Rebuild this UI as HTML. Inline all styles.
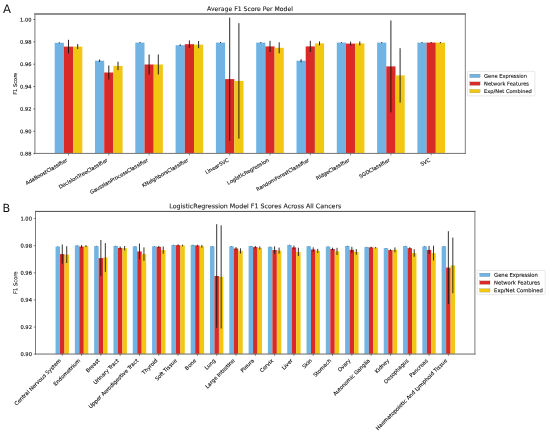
<!DOCTYPE html>
<html lang="en"><head><meta charset="utf-8"><title>F1 score charts</title>
<style>html,body{margin:0;padding:0;background:#fff}svg{display:block;text-rendering:geometricPrecision}</style></head><body>
<svg width="550" height="433" viewBox="0 0 550 433">
<rect width="550" height="433" fill="#fff"/>
<g>
<clipPath id="clip14"><rect x="35" y="14" width="430" height="139.6"/></clipPath>
<rect x="54.7" y="42.8" width="9.2" height="110.8" fill="#71b3e3"/>
<rect x="63.9" y="46.6" width="9.2" height="107" fill="#d92a27"/>
<rect x="73.1" y="46.6" width="9.2" height="107" fill="#f2c714"/>
<rect x="95" y="60.7" width="9.2" height="92.9" fill="#71b3e3"/>
<rect x="104.2" y="72.5" width="9.2" height="81.1" fill="#d92a27"/>
<rect x="113.4" y="65.9" width="9.2" height="87.7" fill="#f2c714"/>
<rect x="135.3" y="42.6" width="9.2" height="111" fill="#71b3e3"/>
<rect x="144.5" y="64.5" width="9.2" height="89.1" fill="#d92a27"/>
<rect x="153.7" y="64.5" width="9.2" height="89.1" fill="#f2c714"/>
<rect x="175.6" y="45.2" width="9.2" height="108.4" fill="#71b3e3"/>
<rect x="184.8" y="44.2" width="9.2" height="109.4" fill="#d92a27"/>
<rect x="194" y="44.6" width="9.2" height="109" fill="#f2c714"/>
<rect x="215.9" y="42.6" width="9.2" height="111" fill="#71b3e3"/>
<rect x="225.1" y="79.1" width="9.2" height="74.5" fill="#d92a27"/>
<rect x="234.3" y="80.9" width="9.2" height="72.7" fill="#f2c714"/>
<rect x="256.2" y="42.6" width="9.2" height="111" fill="#71b3e3"/>
<rect x="265.4" y="46.4" width="9.2" height="107.2" fill="#d92a27"/>
<rect x="274.6" y="47.8" width="9.2" height="105.8" fill="#f2c714"/>
<rect x="296.5" y="60.7" width="9.2" height="92.9" fill="#71b3e3"/>
<rect x="305.7" y="46.4" width="9.2" height="107.2" fill="#d92a27"/>
<rect x="314.9" y="43.4" width="9.2" height="110.2" fill="#f2c714"/>
<rect x="336.8" y="42.6" width="9.2" height="111" fill="#71b3e3"/>
<rect x="346" y="43.6" width="9.2" height="110" fill="#d92a27"/>
<rect x="355.2" y="43.4" width="9.2" height="110.2" fill="#f2c714"/>
<rect x="377.1" y="42.6" width="9.2" height="111" fill="#71b3e3"/>
<rect x="386.3" y="66.4" width="9.2" height="87.2" fill="#d92a27"/>
<rect x="395.5" y="75.4" width="9.2" height="78.2" fill="#f2c714"/>
<rect x="417.4" y="42.6" width="9.2" height="111" fill="#71b3e3"/>
<rect x="426.6" y="42.6" width="9.2" height="111" fill="#d92a27"/>
<rect x="435.8" y="42.6" width="9.2" height="111" fill="#f2c714"/>
<g stroke="#111" stroke-width="0.9" clip-path="url(#clip14)">
<line x1="59.3" x2="59.3" y1="42.3" y2="43.3"/>
<line x1="68.5" x2="68.5" y1="39.8" y2="53.4"/>
<line x1="77.7" x2="77.7" y1="44.1" y2="49.1"/>
<line x1="99.6" x2="99.6" y1="59.5" y2="61.9"/>
<line x1="108.8" x2="108.8" y1="65.5" y2="79.5"/>
<line x1="118" x2="118" y1="61.7" y2="70.1"/>
<line x1="139.9" x2="139.9" y1="42.1" y2="43.1"/>
<line x1="149.1" x2="149.1" y1="54.5" y2="74.5"/>
<line x1="158.3" x2="158.3" y1="54.5" y2="74.5"/>
<line x1="180.2" x2="180.2" y1="44.4" y2="46"/>
<line x1="189.4" x2="189.4" y1="40.4" y2="48"/>
<line x1="198.6" x2="198.6" y1="41" y2="48.2"/>
<line x1="220.5" x2="220.5" y1="42.1" y2="43.1"/>
<line x1="229.7" x2="229.7" y1="17.6" y2="140.6"/>
<line x1="238.9" x2="238.9" y1="23.2" y2="138.6"/>
<line x1="260.8" x2="260.8" y1="42.1" y2="43.1"/>
<line x1="270" x2="270" y1="40.8" y2="52"/>
<line x1="279.2" x2="279.2" y1="42.3" y2="53.3"/>
<line x1="301.1" x2="301.1" y1="59.2" y2="62.2"/>
<line x1="310.3" x2="310.3" y1="40.8" y2="52"/>
<line x1="319.5" x2="319.5" y1="41.4" y2="45.4"/>
<line x1="341.4" x2="341.4" y1="42.1" y2="43.1"/>
<line x1="350.6" x2="350.6" y1="41.6" y2="45.6"/>
<line x1="359.8" x2="359.8" y1="41.4" y2="45.4"/>
<line x1="381.7" x2="381.7" y1="42.1" y2="43.1"/>
<line x1="390.9" x2="390.9" y1="20.5" y2="112.3"/>
<line x1="400.1" x2="400.1" y1="48.2" y2="102.6"/>
<line x1="422" x2="422" y1="42.1" y2="43.1"/>
<line x1="431.2" x2="431.2" y1="42" y2="43.2"/>
<line x1="440.4" x2="440.4" y1="42" y2="43.2"/>
</g>
<rect x="34.3" y="13.05" width="1.2" height="140.95" fill="#8e8e8e"/>
<rect x="464.8" y="13.05" width="1.1" height="140.95" fill="#8a8a8a"/>
<rect x="34.3" y="13.05" width="431.6" height="1.9" fill="#8a8a8a"/>
<rect x="34.3" y="152.9" width="431.6" height="1.1" fill="#808080"/>
<g stroke="#000" stroke-width="0.45">
<line x1="33.2" x2="35" y1="19.5" y2="19.5"/>
<line x1="33.2" x2="35" y1="41.86" y2="41.86"/>
<line x1="33.2" x2="35" y1="64.22" y2="64.22"/>
<line x1="33.2" x2="35" y1="86.58" y2="86.58"/>
<line x1="33.2" x2="35" y1="108.94" y2="108.94"/>
<line x1="33.2" x2="35" y1="131.3" y2="131.3"/>
<line x1="33.2" x2="35" y1="153.66" y2="153.66"/>
<line x1="68.5" x2="68.5" y1="153.6" y2="155.4"/>
<line x1="108.8" x2="108.8" y1="153.6" y2="155.4"/>
<line x1="149.1" x2="149.1" y1="153.6" y2="155.4"/>
<line x1="189.4" x2="189.4" y1="153.6" y2="155.4"/>
<line x1="229.7" x2="229.7" y1="153.6" y2="155.4"/>
<line x1="270" x2="270" y1="153.6" y2="155.4"/>
<line x1="310.3" x2="310.3" y1="153.6" y2="155.4"/>
<line x1="350.6" x2="350.6" y1="153.6" y2="155.4"/>
<line x1="390.9" x2="390.9" y1="153.6" y2="155.4"/>
<line x1="431.2" x2="431.2" y1="153.6" y2="155.4"/>
</g>
<g font-family='"DejaVu Sans","Liberation Sans",sans-serif' font-size="5.12" fill="#111" stroke="#111" stroke-width="0.12">
<text transform="translate(31.5,21.39) rotate(0.04)" text-anchor="end">1.00</text>
<text transform="translate(31.5,43.75) rotate(0.04)" text-anchor="end">0.98</text>
<text transform="translate(31.5,66.11) rotate(0.04)" text-anchor="end">0.96</text>
<text transform="translate(31.5,88.47) rotate(0.04)" text-anchor="end">0.94</text>
<text transform="translate(31.5,110.83) rotate(0.04)" text-anchor="end">0.92</text>
<text transform="translate(31.5,133.19) rotate(0.04)" text-anchor="end">0.90</text>
<text transform="translate(31.5,155.55) rotate(0.04)" text-anchor="end">0.88</text>
<text transform="translate(67.9,161.21) rotate(-30)" text-anchor="end">AdaBoostClassifier</text>
<text transform="translate(108.2,161.21) rotate(-30)" text-anchor="end">DecisionTreeClassifier</text>
<text transform="translate(148.5,161.21) rotate(-30)" text-anchor="end">GaussianProcessClassifier</text>
<text transform="translate(188.8,161.21) rotate(-30)" text-anchor="end">KNeighborsClassifier</text>
<text transform="translate(229.1,161.21) rotate(-30)" text-anchor="end">LinearSVC</text>
<text transform="translate(269.4,161.21) rotate(-30)" text-anchor="end">LogisticRegression</text>
<text transform="translate(309.7,161.21) rotate(-30)" text-anchor="end">RandomForestClassifier</text>
<text transform="translate(350,161.21) rotate(-30)" text-anchor="end">RidgeClassifier</text>
<text transform="translate(390.3,161.21) rotate(-30)" text-anchor="end">SGDClassifier</text>
<text transform="translate(430.6,161.21) rotate(-30)" text-anchor="end">SVC</text>
<text transform="translate(16.9,83.8) rotate(-89.96)" text-anchor="middle">F1 Score</text>
<text transform="translate(250,10.9) rotate(0.04)" text-anchor="middle" font-size="6.15" stroke-width="0.08">Average F1 Score Per Model</text>
<rect x="467.4" y="71.3" width="67.5" height="24.6" rx="1" ry="1" fill="#fff" stroke="#d0d0d0" stroke-width="0.5"/>
<rect x="469.8" y="74.2" width="10.3" height="3.4" fill="#71b3e3"/>
<text transform="translate(484.1,77.74) rotate(0.04)" font-size="5.12">Gene Expression</text>
<rect x="469.8" y="81.9" width="10.3" height="3.4" fill="#d92a27"/>
<text transform="translate(484.1,85.44) rotate(0.04)" font-size="5.12">Network Features</text>
<rect x="469.8" y="89.4" width="10.3" height="3.4" fill="#f2c714"/>
<text transform="translate(484.1,92.94) rotate(0.04)" font-size="5.12">Exp/Net Combined</text>
</g>
</g>
<g>
<clipPath id="clip211"><rect x="35.5" y="211.4" width="439.7" height="142.65"/></clipPath>
<rect x="55.55" y="246.6" width="4.47" height="107.45" fill="#71b3e3"/>
<rect x="60.02" y="254.1" width="4.47" height="99.95" fill="#d92a27"/>
<rect x="64.49" y="254.6" width="4.47" height="99.45" fill="#f2c714"/>
<rect x="74.85" y="245.5" width="4.47" height="108.55" fill="#71b3e3"/>
<rect x="79.32" y="246.6" width="4.47" height="107.45" fill="#d92a27"/>
<rect x="83.79" y="246.1" width="4.47" height="107.95" fill="#f2c714"/>
<rect x="94.16" y="246.1" width="4.47" height="107.95" fill="#71b3e3"/>
<rect x="98.63" y="258.1" width="4.47" height="95.95" fill="#d92a27"/>
<rect x="103.1" y="257.5" width="4.47" height="96.55" fill="#f2c714"/>
<rect x="113.47" y="246" width="4.47" height="108.05" fill="#71b3e3"/>
<rect x="117.94" y="247.9" width="4.47" height="106.15" fill="#d92a27"/>
<rect x="122.41" y="248.2" width="4.47" height="105.85" fill="#f2c714"/>
<rect x="132.77" y="246.4" width="4.47" height="107.65" fill="#71b3e3"/>
<rect x="137.24" y="251.4" width="4.47" height="102.65" fill="#d92a27"/>
<rect x="141.71" y="254.1" width="4.47" height="99.95" fill="#f2c714"/>
<rect x="152.07" y="246.3" width="4.47" height="107.75" fill="#71b3e3"/>
<rect x="156.54" y="246.9" width="4.47" height="107.15" fill="#d92a27"/>
<rect x="161.01" y="250.1" width="4.47" height="103.95" fill="#f2c714"/>
<rect x="171.38" y="245" width="4.47" height="109.05" fill="#71b3e3"/>
<rect x="175.85" y="245.2" width="4.47" height="108.85" fill="#d92a27"/>
<rect x="180.32" y="245.5" width="4.47" height="108.55" fill="#f2c714"/>
<rect x="190.69" y="245" width="4.47" height="109.05" fill="#71b3e3"/>
<rect x="195.16" y="245.5" width="4.47" height="108.55" fill="#d92a27"/>
<rect x="199.62" y="246.3" width="4.47" height="107.75" fill="#f2c714"/>
<rect x="209.99" y="246.3" width="4.47" height="107.75" fill="#71b3e3"/>
<rect x="214.46" y="276" width="4.47" height="78.05" fill="#d92a27"/>
<rect x="218.93" y="276.9" width="4.47" height="77.15" fill="#f2c714"/>
<rect x="229.3" y="246.3" width="4.47" height="107.75" fill="#71b3e3"/>
<rect x="233.77" y="248.5" width="4.47" height="105.55" fill="#d92a27"/>
<rect x="238.24" y="250.9" width="4.47" height="103.15" fill="#f2c714"/>
<rect x="248.6" y="246.1" width="4.47" height="107.95" fill="#71b3e3"/>
<rect x="253.07" y="247.1" width="4.47" height="106.95" fill="#d92a27"/>
<rect x="257.54" y="247.9" width="4.47" height="106.15" fill="#f2c714"/>
<rect x="267.9" y="246.9" width="4.47" height="107.15" fill="#71b3e3"/>
<rect x="272.38" y="250" width="4.47" height="104.05" fill="#d92a27"/>
<rect x="276.84" y="250.6" width="4.47" height="103.45" fill="#f2c714"/>
<rect x="287.21" y="245" width="4.47" height="109.05" fill="#71b3e3"/>
<rect x="291.68" y="247.4" width="4.47" height="106.65" fill="#d92a27"/>
<rect x="296.15" y="251.9" width="4.47" height="102.15" fill="#f2c714"/>
<rect x="306.51" y="246.4" width="4.47" height="107.65" fill="#71b3e3"/>
<rect x="310.99" y="249.5" width="4.47" height="104.55" fill="#d92a27"/>
<rect x="315.45" y="250.9" width="4.47" height="103.15" fill="#f2c714"/>
<rect x="325.82" y="246.6" width="4.47" height="107.45" fill="#71b3e3"/>
<rect x="330.29" y="249" width="4.47" height="105.05" fill="#d92a27"/>
<rect x="334.76" y="251.4" width="4.47" height="102.65" fill="#f2c714"/>
<rect x="345.12" y="246" width="4.47" height="108.05" fill="#71b3e3"/>
<rect x="349.6" y="249.8" width="4.47" height="104.25" fill="#d92a27"/>
<rect x="354.06" y="251.9" width="4.47" height="102.15" fill="#f2c714"/>
<rect x="364.43" y="247.1" width="4.47" height="106.95" fill="#71b3e3"/>
<rect x="368.9" y="247.4" width="4.47" height="106.65" fill="#d92a27"/>
<rect x="373.37" y="247.7" width="4.47" height="106.35" fill="#f2c714"/>
<rect x="383.74" y="248.2" width="4.47" height="105.85" fill="#71b3e3"/>
<rect x="388.21" y="250.1" width="4.47" height="103.95" fill="#d92a27"/>
<rect x="392.68" y="249.8" width="4.47" height="104.25" fill="#f2c714"/>
<rect x="403.04" y="246.1" width="4.47" height="107.95" fill="#71b3e3"/>
<rect x="407.51" y="248.2" width="4.47" height="105.85" fill="#d92a27"/>
<rect x="411.98" y="253" width="4.47" height="101.05" fill="#f2c714"/>
<rect x="422.35" y="246.3" width="4.47" height="107.75" fill="#71b3e3"/>
<rect x="426.82" y="249.9" width="4.47" height="104.15" fill="#d92a27"/>
<rect x="431.29" y="253.1" width="4.47" height="100.95" fill="#f2c714"/>
<rect x="441.65" y="246.3" width="4.47" height="107.75" fill="#71b3e3"/>
<rect x="446.12" y="267.6" width="4.47" height="86.45" fill="#d92a27"/>
<rect x="450.59" y="265.4" width="4.47" height="88.65" fill="#f2c714"/>
<g stroke="#111" stroke-width="0.85" clip-path="url(#clip211)">
<line x1="57.78" x2="57.78" y1="246.35" y2="246.85"/>
<line x1="62.25" x2="62.25" y1="244.5" y2="263.7"/>
<line x1="66.72" x2="66.72" y1="246.2" y2="263"/>
<line x1="77.09" x2="77.09" y1="245.25" y2="245.75"/>
<line x1="81.56" x2="81.56" y1="245.1" y2="248.1"/>
<line x1="86.03" x2="86.03" y1="245.1" y2="247.1"/>
<line x1="96.39" x2="96.39" y1="245.85" y2="246.35"/>
<line x1="100.86" x2="100.86" y1="240" y2="276.2"/>
<line x1="105.33" x2="105.33" y1="243.1" y2="271.9"/>
<line x1="115.7" x2="115.7" y1="245.75" y2="246.25"/>
<line x1="120.17" x2="120.17" y1="246.4" y2="249.4"/>
<line x1="124.64" x2="124.64" y1="246" y2="250.4"/>
<line x1="135" x2="135" y1="246.15" y2="246.65"/>
<line x1="139.47" x2="139.47" y1="243.6" y2="259.2"/>
<line x1="143.94" x2="143.94" y1="247.4" y2="260.8"/>
<line x1="154.31" x2="154.31" y1="246.05" y2="246.55"/>
<line x1="158.78" x2="158.78" y1="245.9" y2="247.9"/>
<line x1="163.25" x2="163.25" y1="246.5" y2="253.7"/>
<line x1="173.62" x2="173.62" y1="244.75" y2="245.25"/>
<line x1="178.09" x2="178.09" y1="244.4" y2="246"/>
<line x1="182.56" x2="182.56" y1="244.7" y2="246.3"/>
<line x1="192.92" x2="192.92" y1="244.75" y2="245.25"/>
<line x1="197.39" x2="197.39" y1="244.7" y2="246.3"/>
<line x1="201.86" x2="201.86" y1="244.9" y2="247.7"/>
<line x1="212.23" x2="212.23" y1="246.05" y2="246.55"/>
<line x1="216.7" x2="216.7" y1="224.2" y2="327.8"/>
<line x1="221.17" x2="221.17" y1="225.3" y2="328.5"/>
<line x1="231.53" x2="231.53" y1="246.05" y2="246.55"/>
<line x1="236" x2="236" y1="247.1" y2="249.9"/>
<line x1="240.47" x2="240.47" y1="248.3" y2="253.5"/>
<line x1="250.84" x2="250.84" y1="245.85" y2="246.35"/>
<line x1="255.31" x2="255.31" y1="245.9" y2="248.3"/>
<line x1="259.78" x2="259.78" y1="246.4" y2="249.4"/>
<line x1="270.14" x2="270.14" y1="246.65" y2="247.15"/>
<line x1="274.61" x2="274.61" y1="246.3" y2="253.7"/>
<line x1="279.08" x2="279.08" y1="247.6" y2="253.6"/>
<line x1="289.44" x2="289.44" y1="244.75" y2="245.25"/>
<line x1="293.91" x2="293.91" y1="245.6" y2="249.2"/>
<line x1="298.38" x2="298.38" y1="247.7" y2="256.1"/>
<line x1="308.75" x2="308.75" y1="246.15" y2="246.65"/>
<line x1="313.22" x2="313.22" y1="247.3" y2="251.7"/>
<line x1="317.69" x2="317.69" y1="248.9" y2="252.9"/>
<line x1="328.06" x2="328.06" y1="246.35" y2="246.85"/>
<line x1="332.52" x2="332.52" y1="247.7" y2="250.3"/>
<line x1="337" x2="337" y1="247.8" y2="255"/>
<line x1="347.36" x2="347.36" y1="245.75" y2="246.25"/>
<line x1="351.83" x2="351.83" y1="246.8" y2="252.8"/>
<line x1="356.3" x2="356.3" y1="249.1" y2="254.7"/>
<line x1="366.67" x2="366.67" y1="246.85" y2="247.35"/>
<line x1="371.13" x2="371.13" y1="246.7" y2="248.1"/>
<line x1="375.61" x2="375.61" y1="247" y2="248.4"/>
<line x1="385.97" x2="385.97" y1="247.95" y2="248.45"/>
<line x1="390.44" x2="390.44" y1="249.3" y2="250.9"/>
<line x1="394.91" x2="394.91" y1="247.4" y2="252.2"/>
<line x1="405.28" x2="405.28" y1="245.85" y2="246.35"/>
<line x1="409.75" x2="409.75" y1="247.2" y2="249.2"/>
<line x1="414.22" x2="414.22" y1="249.2" y2="256.8"/>
<line x1="424.58" x2="424.58" y1="246.05" y2="246.55"/>
<line x1="429.05" x2="429.05" y1="245.9" y2="253.9"/>
<line x1="433.52" x2="433.52" y1="245.7" y2="260.5"/>
<line x1="443.89" x2="443.89" y1="246.05" y2="246.55"/>
<line x1="448.36" x2="448.36" y1="231.2" y2="304"/>
<line x1="452.83" x2="452.83" y1="237.6" y2="293.2"/>
</g>
<rect x="35" y="210.9" width="1" height="143.7" fill="#7c7c7c"/>
<rect x="474.4" y="210.9" width="1" height="143.7" fill="#7c7c7c"/>
<rect x="35" y="210.9" width="440.4" height="1.1" fill="#5a5a5a"/>
<rect x="35" y="353.5" width="440.4" height="1.1" fill="#777"/>
<g stroke="#000" stroke-width="0.45">
<line x1="33.7" x2="35.5" y1="218.6" y2="218.6"/>
<line x1="33.7" x2="35.5" y1="245.7" y2="245.7"/>
<line x1="33.7" x2="35.5" y1="272.8" y2="272.8"/>
<line x1="33.7" x2="35.5" y1="299.9" y2="299.9"/>
<line x1="33.7" x2="35.5" y1="327" y2="327"/>
<line x1="33.7" x2="35.5" y1="354.1" y2="354.1"/>
<line x1="62.25" x2="62.25" y1="354.05" y2="355.85"/>
<line x1="81.56" x2="81.56" y1="354.05" y2="355.85"/>
<line x1="100.86" x2="100.86" y1="354.05" y2="355.85"/>
<line x1="120.17" x2="120.17" y1="354.05" y2="355.85"/>
<line x1="139.47" x2="139.47" y1="354.05" y2="355.85"/>
<line x1="158.78" x2="158.78" y1="354.05" y2="355.85"/>
<line x1="178.09" x2="178.09" y1="354.05" y2="355.85"/>
<line x1="197.39" x2="197.39" y1="354.05" y2="355.85"/>
<line x1="216.7" x2="216.7" y1="354.05" y2="355.85"/>
<line x1="236" x2="236" y1="354.05" y2="355.85"/>
<line x1="255.31" x2="255.31" y1="354.05" y2="355.85"/>
<line x1="274.61" x2="274.61" y1="354.05" y2="355.85"/>
<line x1="293.91" x2="293.91" y1="354.05" y2="355.85"/>
<line x1="313.22" x2="313.22" y1="354.05" y2="355.85"/>
<line x1="332.52" x2="332.52" y1="354.05" y2="355.85"/>
<line x1="351.83" x2="351.83" y1="354.05" y2="355.85"/>
<line x1="371.13" x2="371.13" y1="354.05" y2="355.85"/>
<line x1="390.44" x2="390.44" y1="354.05" y2="355.85"/>
<line x1="409.75" x2="409.75" y1="354.05" y2="355.85"/>
<line x1="429.05" x2="429.05" y1="354.05" y2="355.85"/>
<line x1="448.36" x2="448.36" y1="354.05" y2="355.85"/>
</g>
<g font-family='"DejaVu Sans","Liberation Sans",sans-serif' font-size="5.22" fill="#111" stroke="#111" stroke-width="0.12">
<text transform="translate(32,220.53) rotate(0.04)" text-anchor="end">1.00</text>
<text transform="translate(32,247.63) rotate(0.04)" text-anchor="end">0.98</text>
<text transform="translate(32,274.73) rotate(0.04)" text-anchor="end">0.96</text>
<text transform="translate(32,301.83) rotate(0.04)" text-anchor="end">0.94</text>
<text transform="translate(32,328.93) rotate(0.04)" text-anchor="end">0.92</text>
<text transform="translate(32,356.03) rotate(0.04)" text-anchor="end">0.90</text>
<text transform="translate(61.38,360.98) rotate(-45)" text-anchor="end">Central Nervous System</text>
<text transform="translate(80.69,360.98) rotate(-45)" text-anchor="end">Endometrium</text>
<text transform="translate(99.99,360.98) rotate(-45)" text-anchor="end">Breast</text>
<text transform="translate(119.3,360.98) rotate(-45)" text-anchor="end">Urinary Tract</text>
<text transform="translate(138.6,360.98) rotate(-45)" text-anchor="end">Upper Aerodigestive Tract</text>
<text transform="translate(157.91,360.98) rotate(-45)" text-anchor="end">Thyroid</text>
<text transform="translate(177.21,360.98) rotate(-45)" text-anchor="end">Soft Tissue</text>
<text transform="translate(196.52,360.98) rotate(-45)" text-anchor="end">Bone</text>
<text transform="translate(215.82,360.98) rotate(-45)" text-anchor="end">Lung</text>
<text transform="translate(235.13,360.98) rotate(-45)" text-anchor="end">Large Intestine</text>
<text transform="translate(254.43,360.98) rotate(-45)" text-anchor="end">Pleura</text>
<text transform="translate(273.74,360.98) rotate(-45)" text-anchor="end">Cervix</text>
<text transform="translate(293.04,360.98) rotate(-45)" text-anchor="end">Liver</text>
<text transform="translate(312.35,360.98) rotate(-45)" text-anchor="end">Skin</text>
<text transform="translate(331.65,360.98) rotate(-45)" text-anchor="end">Stomach</text>
<text transform="translate(350.96,360.98) rotate(-45)" text-anchor="end">Ovary</text>
<text transform="translate(370.26,360.98) rotate(-45)" text-anchor="end">Autonomic Ganglia</text>
<text transform="translate(389.57,360.98) rotate(-45)" text-anchor="end">Kidney</text>
<text transform="translate(408.87,360.98) rotate(-45)" text-anchor="end">Oesophagus</text>
<text transform="translate(428.18,360.98) rotate(-45)" text-anchor="end">Pancreas</text>
<text transform="translate(447.48,360.98) rotate(-45)" text-anchor="end">Haematopoietic And Lymphoid Tissue</text>
<text transform="translate(17.2,282.73) rotate(-89.96)" text-anchor="middle">F1 Score</text>
<text transform="translate(255.35,208.3) rotate(0.04)" text-anchor="middle" font-size="6.32" stroke-width="0.08">LogisticRegression Model F1 Scores Across All Cancers</text>
<rect x="477.2" y="270.5" width="68" height="24.1" rx="1" ry="1" fill="#fff" stroke="#d0d0d0" stroke-width="0.5"/>
<rect x="479.7" y="273.2" width="10.3" height="3.4" fill="#71b3e3"/>
<text transform="translate(494.1,276.78) rotate(0.04)" font-size="5.22">Gene Expression</text>
<rect x="479.7" y="280.9" width="10.3" height="3.4" fill="#d92a27"/>
<text transform="translate(494.1,284.48) rotate(0.04)" font-size="5.22">Network Features</text>
<rect x="479.7" y="288.7" width="10.3" height="3.4" fill="#f2c714"/>
<text transform="translate(494.1,292.28) rotate(0.04)" font-size="5.22">Exp/Net Combined</text>
</g>
</g>
<text x="2.9" y="12.9" font-family='"DejaVu Sans","Liberation Sans",sans-serif' font-size="11.7" fill="#111">A</text>
<text x="2.6" y="212.1" font-family='"DejaVu Sans","Liberation Sans",sans-serif' font-size="11.2" fill="#111">B</text>
</svg></body></html>
